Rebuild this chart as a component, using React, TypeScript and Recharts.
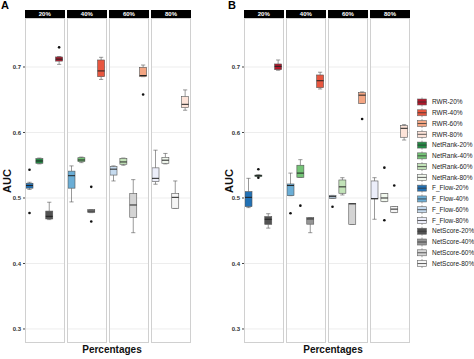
import React from "react";
import { ComposedChart, Bar, XAxis, YAxis, CartesianGrid } from "recharts";

const methods = ["F_Flow", "NetRank", "NetScore", "RWR"];
const percentages = ["20%", "40%", "60%", "80%"];
const legendOrder = ["RWR", "NetRank", "F_Flow", "NetScore"];
const yTicks = [0.3, 0.4, 0.5, 0.6, 0.7];

// [lower whisker, Q1, median, Q3, upper whisker], one row per percentage
const fFlowA = [
  [0.513, 0.515, 0.519, 0.5225, 0.524],
  [0.494, 0.515, 0.534, 0.541, 0.549],
  [0.526, 0.535, 0.544, 0.548, 0.549],
  [0.521, 0.525, 0.53, 0.546, 0.573],
];
const netRankA = [
  [0.552, 0.553, 0.5565, 0.56, 0.561],
  [0.554, 0.5555, 0.558, 0.5615, 0.5625],
  [0.55, 0.5515, 0.555, 0.5606, 0.561],
  [0.552, 0.553, 0.5577, 0.562, 0.568],
];
const netScoreA = [
  [0.467, 0.468, 0.472, 0.48, 0.4935],
  [0.4776, 0.4776, 0.48, 0.4823, 0.4823],
  [0.447, 0.4705, 0.4893, 0.5066, 0.528],
  [0.4843, 0.4843, 0.501, 0.507, 0.526],
];
const rwrA = [
  [0.704, 0.709, 0.712, 0.7153, 0.716],
  [0.681, 0.6852, 0.694, 0.7107, 0.7148],
  [0.6852, 0.6852, 0.687, 0.6995, 0.703],
  [0.634, 0.638, 0.643, 0.6547, 0.665],
];
const outliersA: Record<string, number[][]> = {
  F_Flow: [[0.543, 0.477], [], [], []],
  NetRank: [[], [], [], []],
  NetScore: [[], [0.517, 0.464], [], []],
  RWR: [[0.73], [], [0.658], []],
};

const fFlowB = [
  [0.4853, 0.4868, 0.501, 0.5097, 0.53],
  [0.5035, 0.5035, 0.519, 0.5214, 0.538],
  [0.4995, 0.4995, 0.502, 0.504, 0.504],
  [0.4675, 0.4985, 0.499, 0.526, 0.531],
];
const netRankB = [
  [0.5325, 0.533, 0.534, 0.535, 0.5355],
  [0.5316, 0.5316, 0.538, 0.55, 0.5585],
  [0.5046, 0.5072, 0.517, 0.5275, 0.531],
  [0.4944, 0.4944, 0.5, 0.5066, 0.5066],
];
const netScoreB = [
  [0.454, 0.4598, 0.4675, 0.4715, 0.476],
  [0.447, 0.46, 0.468, 0.47, 0.47],
  [0.4598, 0.4598, 0.491, 0.4913, 0.4913],
  [0.4777, 0.4777, 0.483, 0.4867, 0.4867],
];
const rwrB = [
  [0.695, 0.6959, 0.701, 0.7046, 0.7107],
  [0.6664, 0.6684, 0.679, 0.6878, 0.692],
  [0.6445, 0.6445, 0.657, 0.6608, 0.662],
  [0.5885, 0.5927, 0.6064, 0.6104, 0.612],
];
const outliersB: Record<string, number[][]> = {
  F_Flow: [[], [0.4767], [0.4867], []],
  NetRank: [[0.5438, 0.531], [0.4883], [], [0.5463, 0.466]],
  NetScore: [[], [], [], [0.519]],
  RWR: [[], [], [0.6206], []],
};

const colors: Record<string, string[]> = {
  RWR: ["#b2182b", "#e8563f", "#f4a582", "#fde3d8"],
  NetRank: ["#238b45", "#74c476", "#c2e3b8", "#f1f8ee"],
  F_Flow: ["#2171b5", "#6baed6", "#c6dbef", "#eceefa"],
  NetScore: ["#525252", "#969696", "#d4d4d4", "#f5f5f5"],
};

const FONT = 'Arial, "Liberation Sans", sans-serif';
const Y_MIN = 0.2786;
const Y_MAX = 0.7748;
const TOP = 18;
const PANEL_H = 325;
const FACET_W = 39.5;
const PITCH = 42.1;

function BoxShape(props: any) {
  const { x, y, width, height, payload } = props;
  const { lo, q1, med, q3, hi, out, color } = payload;
  const py = (v: number) => y + ((hi - v) / (hi - lo)) * height;
  const cx = x + width / 2;
  const cap = width * 0.3;
  const edge = "#555";
  return (
    <g>
      <line x1={cx} x2={cx} y1={py(hi)} y2={py(q3)} stroke={edge} strokeWidth={0.6} />
      <line x1={cx} x2={cx} y1={py(q1)} y2={py(lo)} stroke={edge} strokeWidth={0.6} />
      <line x1={cx - cap} x2={cx + cap} y1={py(hi)} y2={py(hi)} stroke={edge} strokeWidth={0.6} />
      <line x1={cx - cap} x2={cx + cap} y1={py(lo)} y2={py(lo)} stroke={edge} strokeWidth={0.6} />
      <rect x={x} y={py(q3)} width={width} height={Math.max(py(q1) - py(q3), 0.8)} fill={color} stroke={edge} strokeWidth={0.6} />
      <line x1={x} x2={x + width} y1={py(med)} y2={py(med)} stroke="#222" strokeWidth={1} />
      {out.map((o: number, k: number) => (
        <circle key={k} cx={cx} cy={py(o)} r={1.3} fill="#111" />
      ))}
    </g>
  );
}

function Panel({ letter, letterX, left, axisW, stats, outliers, titleX, aucX }: any) {
  return (
    <>
      <div style={{ position: "absolute", left: letterX, top: 0, fontFamily: FONT, fontWeight: "bold", fontSize: 11, lineHeight: "11px" }}>{letter}</div>
      <svg width={14} height={40} style={{ position: "absolute", left: aucX - 7, top: 161 }}>
        <text x={7} y={20} transform="rotate(-90 7 20)" textAnchor="middle" dominantBaseline="central" fontSize={11} fontWeight="bold" fontFamily={FONT} fill="#111">AUC</text>
      </svg>
      {percentages.map((p, i) => {
        const fx = left + i * PITCH;
        const first = i === 0;
        const rows = methods.map((m) => {
          const s = stats[m][i];
          return { name: m, lo: s[0], q1: s[1], med: s[2], q3: s[3], hi: s[4], out: outliers[m][i], color: colors[m][i] };
        });
        return (
          <React.Fragment key={p}>
            <div style={{ position: "absolute", left: fx, top: 10, width: FACET_W, height: 8, background: "#000", color: "#fff", fontFamily: FONT, fontWeight: "bold", fontSize: 6, lineHeight: "8px", textAlign: "center" }}>{p}</div>
            <div style={{ position: "absolute", left: first ? fx - axisW : fx, top: TOP }}>
              <ComposedChart width={first ? FACET_W + axisW : FACET_W} height={PANEL_H} data={rows} margin={{ top: 0, right: 0, bottom: 0, left: 0 }} barCategoryGap={0}>
                <CartesianGrid vertical={false} horizontalValues={yTicks} stroke="#ededed" />
                <XAxis dataKey="name" hide />
                <YAxis
                  hide={!first}
                  width={axisW}
                  domain={[Y_MIN, Y_MAX]}
                  ticks={yTicks}
                  allowDataOverflow
                  axisLine={false}
                  tickSize={2}
                  tickLine={{ stroke: "#444" }}
                  tickFormatter={(v: number) => v.toFixed(1)}
                  tick={{ fontSize: 6, fill: "#333", fontFamily: FONT, fontWeight: "bold" }}
                />
                <Bar dataKey={(d: any) => [d.lo, d.hi]} barSize={7} shape={BoxShape} isAnimationActive={false} />
              </ComposedChart>
            </div>
            <div style={{ position: "absolute", left: fx, top: TOP, width: FACET_W, height: PANEL_H, border: "1.5px solid #d0d0d0", boxSizing: "border-box", pointerEvents: "none" }} />
          </React.Fragment>
        );
      })}
      <div style={{ position: "absolute", left: titleX - 50, top: 344, width: 100, textAlign: "center", fontFamily: FONT, fontWeight: "bold", fontSize: 10, color: "#111" }}>Percentages</div>
    </>
  );
}

function Legend() {
  const items = legendOrder.flatMap((m) => percentages.map((p, i) => ({ label: `${m}-${p}`, color: colors[m][i] })));
  return (
    <svg width={60} height={180} style={{ position: "absolute", left: 414, top: 92 }}>
      {items.map((it, k) => {
        const cy = 10 + k * 10.77;
        return (
          <g key={it.label}>
            <line x1={8} x2={8} y1={cy - 4.5} y2={cy + 4.5} stroke="#666" strokeWidth={0.6} />
            <rect x={3.5} y={cy - 3} width={9} height={6} fill={it.color} stroke="#666" strokeWidth={0.6} />
            <line x1={3.5} x2={12.5} y1={cy} y2={cy} stroke="#333" strokeWidth={0.8} />
            <text x={18} y={cy + 2.2} fontSize={6.5} fontFamily={FONT} fill="#222">{it.label}</text>
          </g>
        );
      })}
    </svg>
  );
}

export default function App() {
  const statsA = { F_Flow: fFlowA, NetRank: netRankA, NetScore: netScoreA, RWR: rwrA };
  const statsB = { F_Flow: fFlowB, NetRank: netRankB, NetScore: netScoreB, RWR: rwrB };
  return (
    <div style={{ position: "absolute", left: 0, top: 0, width: 474, height: 359, background: "#fff", overflow: "hidden" }}>
      <Panel letter="A" letterX={1} left={25} axisW={25} stats={statsA} outliers={outliersA} titleX={112} aucX={7} />
      <Panel letter="B" letterX={228} left={244} axisW={24} stats={statsB} outliers={outliersB} titleX={333} aucX={229} />
      <Legend />
    </div>
  );
}
